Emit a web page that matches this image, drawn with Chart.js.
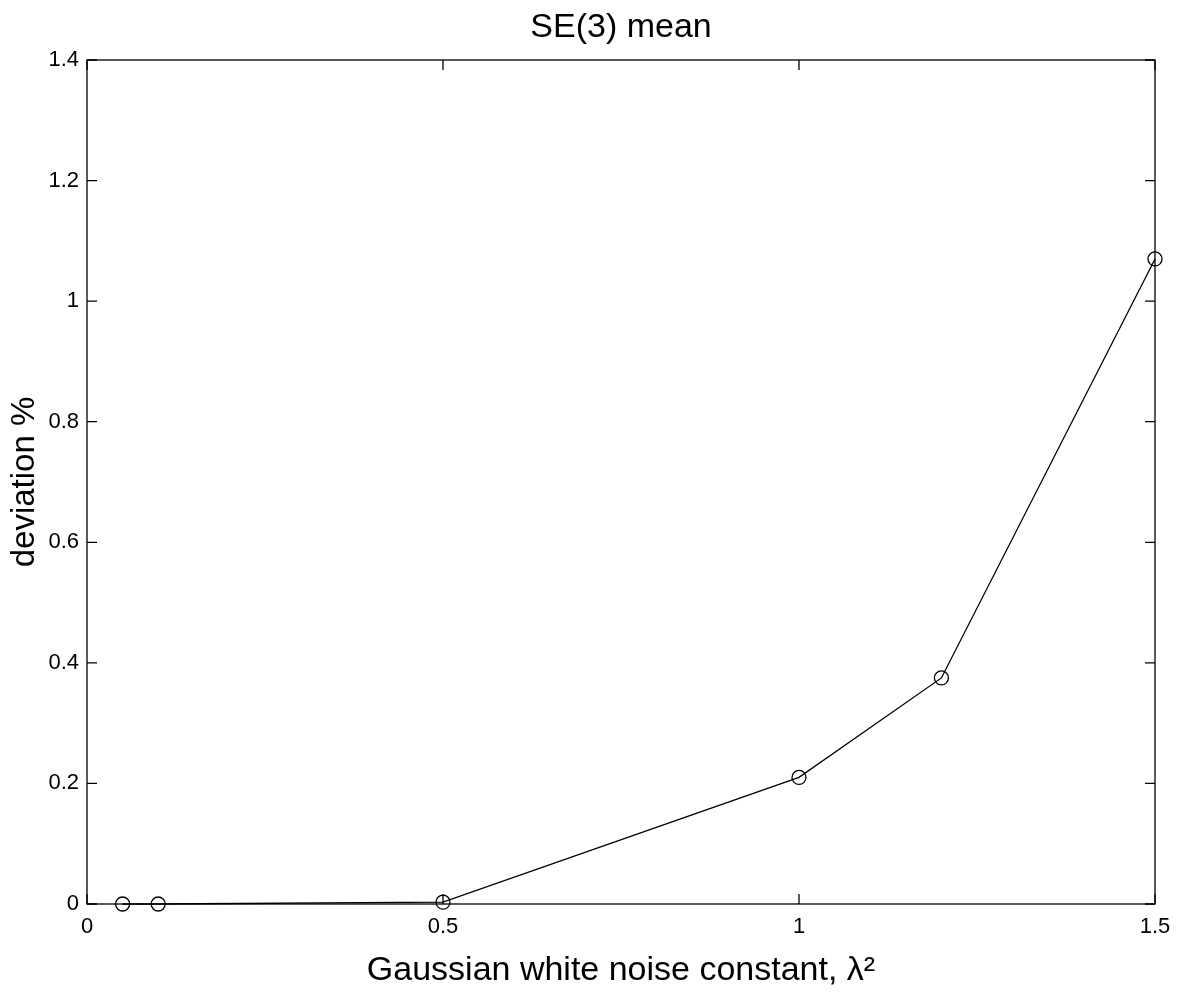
<!DOCTYPE html>
<html>
<head>
<meta charset="utf-8">
<script src="https://cdn.jsdelivr.net/npm/chart.js@4.4.0/dist/chart.umd.min.js"></script>
<style>
  html, body { margin: 0; padding: 0; background: #fff; }
  #wrap { width: 1183px; height: 999px; }
</style>
</head>
<body>
<div id="wrap"><canvas id="chart" width="1183" height="999"></canvas></div>
<script>
// data
const noiseLevels = [0.05, 0.1, 0.5, 1.0, 1.2, 1.5];
const deviation = [0, 0, 0.003, 0.21, 0.375, 1.07];
const xTicks = [0, 0.5, 1, 1.5];
const yTicks = [0, 0.2, 0.4, 0.6, 0.8, 1, 1.2, 1.4];
const chartTitle = 'SE(3) mean';

const font = 'Liberation Sans, Arial, sans-serif';

// title over the plot area, box around it and inward ticks on all four sides
const boxTicks = {
    id: 'boxTicks',
    afterDraw(chart) {
        const { ctx, chartArea: a, scales } = chart;
        ctx.save();
        ctx.fillStyle = '#000';
        ctx.font = '34px ' + font;
        ctx.textAlign = 'center';
        ctx.textBaseline = 'middle';
        ctx.fillText(chartTitle, (a.left + a.right) / 2, 28);

        ctx.strokeStyle = '#000';
        ctx.lineWidth = 1.3;
        ctx.strokeRect(a.left, a.top, a.right - a.left, a.bottom - a.top);
        const len = 10;
        ctx.beginPath();
        xTicks.forEach(v => {
            const px = scales.x.getPixelForValue(v);
            ctx.moveTo(px, a.bottom); ctx.lineTo(px, a.bottom - len);
            ctx.moveTo(px, a.top); ctx.lineTo(px, a.top + len);
        });
        yTicks.forEach(v => {
            const py = scales.y.getPixelForValue(v);
            ctx.moveTo(a.left, py); ctx.lineTo(a.left + len, py);
            ctx.moveTo(a.right, py); ctx.lineTo(a.right - len, py);
        });
        ctx.stroke();
        ctx.restore();
    }
};

new Chart(document.getElementById('chart'), {
    type: 'line',
    data: {
        datasets: [{
            data: noiseLevels.map((x, i) => ({ x: x, y: deviation[i] })),
            borderColor: '#000',
            borderWidth: 1.3,
            pointRadius: 7,
            pointBorderWidth: 1.3,
            pointBorderColor: '#000',
            pointBackgroundColor: 'rgba(0,0,0,0)',
            tension: 0,
            clip: false
        }]
    },
    options: {
        responsive: false,
        animation: false,
        layout: { padding: { left: 0, right: 28, top: 60, bottom: 0 } },
        plugins: {
            legend: { display: false },
            tooltip: { enabled: false },
            title: { display: false }
        },
        scales: {
            x: {
                type: 'linear',
                min: 0, max: 1.5,
                afterBuildTicks: s => { s.ticks = xTicks.map(v => ({ value: v })); },
                afterFit: s => { s.height = 95; },
                grid: { display: false, drawTicks: false },
                border: { display: false },
                ticks: {
                    color: '#000', padding: 10, maxRotation: 0,
                    font: { family: font, size: 22 },
                    callback: v => String(v)
                },
                title: {
                    display: true,
                    text: 'Gaussian white noise constant, λ²',
                    color: '#000',
                    font: { family: font, size: 34 },
                    padding: { top: 0, bottom: 8 }
                }
            },
            y: {
                type: 'linear',
                min: 0, max: 1.4,
                afterBuildTicks: s => { s.ticks = yTicks.map(v => ({ value: v })); },
                afterFit: s => { s.width = 87; },
                grid: { display: false, drawTicks: false },
                border: { display: false },
                ticks: {
                    color: '#000', padding: 8,
                    font: { family: font, size: 22 },
                    callback: v => String(v)
                },
                title: {
                    display: true,
                    text: 'deviation %',
                    color: '#000',
                    font: { family: font, size: 33 },
                    padding: { top: 5, bottom: 0 }
                }
            }
        }
    },
    plugins: [boxTicks]
});
</script>
</body>
</html>
